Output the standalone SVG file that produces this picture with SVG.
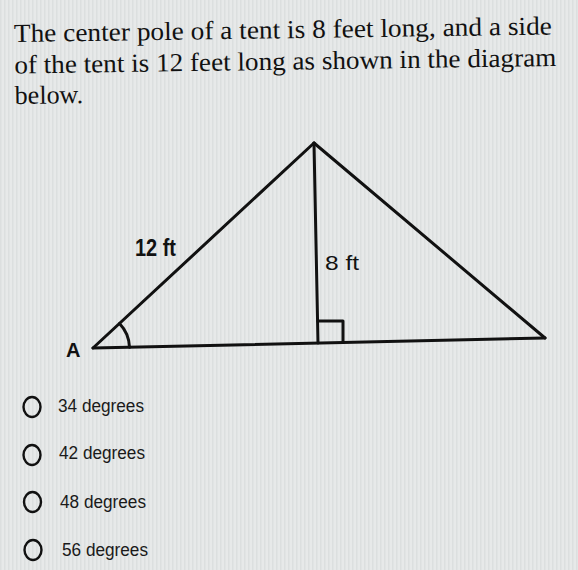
<svg xmlns="http://www.w3.org/2000/svg" width="578" height="570" viewBox="0 0 578 570">
  <defs>
    <pattern id="stripes" width="4" height="8" patternUnits="userSpaceOnUse">
      <rect width="4" height="8" fill="#e7e9e9"/>
      <rect x="0" width="1.5" height="8" fill="#dcdfdf"/>
    </pattern>
    <style>
      .q { font-family: "Liberation Serif", "Times New Roman", serif; font-size: 26px; fill: #111; }
      .lbl { font-family: "Liberation Sans", Arial, sans-serif; fill: #111; }
      .opt { font-family: "Liberation Sans", Arial, sans-serif; font-size: 17.5px; fill: #1a1a1a; }
      .edge { stroke: #111; stroke-width: 3; fill: none; stroke-linecap: round; stroke-linejoin: round; }
      .radio { stroke: #111; stroke-width: 2.4; fill: none; }
    </style>
  </defs>
  <rect width="578" height="570" fill="url(#stripes)"/>

  <g id="question" transform="rotate(-0.8 14 42)">
    <text class="q" x="14" y="42" textLength="538" lengthAdjust="spacingAndGlyphs">The center pole of a tent is 8 feet long, and a side</text>
    <text class="q" x="14" y="73.5" textLength="542" lengthAdjust="spacingAndGlyphs">of the tent is 12 feet long as shown in the diagram</text>
    <text class="q" x="14" y="104">below.</text>
  </g>

  <g id="connectors">
    <line class="edge" x1="93" y1="348" x2="314" y2="143"/>
    <line class="edge" x1="314" y1="143" x2="545" y2="338"/>
    <line class="edge" x1="93" y1="348" x2="545" y2="338"/>
    <line class="edge" x1="314" y1="143" x2="318" y2="343"/>
  </g>

  <g id="right-angle">
    <polyline class="edge" points="318,321 343,321 343,342.5"/>
  </g>

  <g id="angle-A">
    <path class="edge" d="M 119.5 323.5 A 36 36 0 0 1 129.5 347.2"/>
    <text class="lbl" x="66" y="357" font-size="20" font-weight="bold">A</text>
  </g>

  <g id="label-12ft">
    <text class="lbl" x="135" y="256" font-size="23" font-weight="bold" textLength="41" lengthAdjust="spacingAndGlyphs">12 ft</text>
  </g>

  <g id="label-8ft">
    <text class="lbl" x="325" y="270" font-size="21" textLength="34" lengthAdjust="spacingAndGlyphs">8 ft</text>
  </g>

  <g id="option-34">
    <ellipse class="radio" cx="32" cy="407" rx="8.5" ry="10"/>
    <text class="opt" x="58" y="411.5" textLength="86" lengthAdjust="spacingAndGlyphs">34 degrees</text>
  </g>
  <g id="option-42">
    <ellipse class="radio" cx="32" cy="455" rx="8.5" ry="10"/>
    <text class="opt" x="59" y="459" textLength="86" lengthAdjust="spacingAndGlyphs">42 degrees</text>
  </g>
  <g id="option-48">
    <ellipse class="radio" cx="32.5" cy="502" rx="8.5" ry="10"/>
    <text class="opt" x="60" y="507.5" textLength="86" lengthAdjust="spacingAndGlyphs">48 degrees</text>
  </g>
  <g id="option-56">
    <ellipse class="radio" cx="33" cy="550" rx="8.5" ry="10"/>
    <text class="opt" x="62" y="555.5" textLength="86" lengthAdjust="spacingAndGlyphs">56 degrees</text>
  </g>
</svg>
